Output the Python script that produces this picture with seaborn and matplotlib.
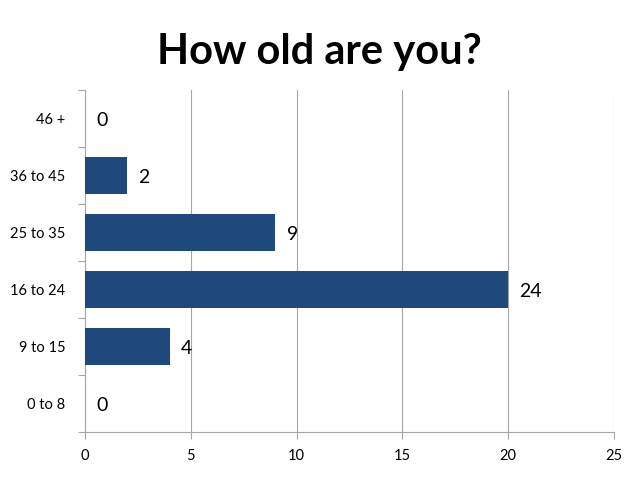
import matplotlib
matplotlib.use("Agg")
import matplotlib.pyplot as plt
import seaborn as sns
import numpy as np

# Data (top to bottom as shown)
age_groups = ["46 +", "36 to 45", "25 to 35", "16 to 24", "9 to 15", "0 to 8"]
counts = [0, 2, 9, 24, 4, 0]          # numbers printed next to bars
bar_lengths = [0, 2, 9, 20, 4, 0]     # bar lengths as drawn (16 to 24 bar stops at 20)
x_ticks = [0, 5, 10, 15, 20, 25]

sns.set_theme(style="white")
plt.rcParams["font.family"] = ["Lato", "DejaVu Sans"]
plt.rcParams["text.color"] = "black"
plt.rcParams["xtick.color"] = "black"
plt.rcParams["ytick.color"] = "black"

fig = plt.figure(figsize=(6.38, 4.78), dpi=100)
ax = fig.add_axes([0.1332, 0.0962, 0.8292, 0.7155])

sns.barplot(x=bar_lengths, y=age_groups, orient="h", color="#1F497D",
            width=0.65, saturation=1, linewidth=0, ax=ax, zorder=3)

ax.set_xlim(0, 25)
ax.set_ylim(5.5, -0.5)
ax.set_xticks(x_ticks)
ax.set_xticklabels([str(t) for t in x_ticks], fontsize=10.5)
ax.xaxis.grid(True, color="#A6A6A6", linewidth=0.8, zorder=0)
ax.yaxis.grid(False)

for s in ["top", "right"]:
    ax.spines[s].set_visible(False)
for s in ["left", "bottom"]:
    ax.spines[s].set_color("#A6A6A6")
    ax.spines[s].set_linewidth(0.8)

ax.tick_params(axis="x", length=5, color="#A6A6A6", labelcolor="black",
               width=0.8, pad=7, bottom=True)
ax.tick_params(axis="y", which="major", length=0, pad=14, labelsize=10.5,
               labelcolor="black")
ax.set_yticks(np.arange(-0.5, 6, 1), minor=True)
ax.tick_params(axis="y", which="minor", length=5, color="#A6A6A6", width=0.8, left=True)

for i, (v, c) in enumerate(zip(bar_lengths, counts)):
    ax.annotate(str(c), (v, i), xytext=(8, -1.5), textcoords="offset points",
                va="center", ha="left", fontsize=14, color="black")

ax.set_xlabel("")
ax.set_ylabel("")
fig.suptitle("How old are you?", fontsize=30, fontweight="bold", y=0.93, x=0.5,
             color="black")

fig.savefig("out.png", dpi=100)
